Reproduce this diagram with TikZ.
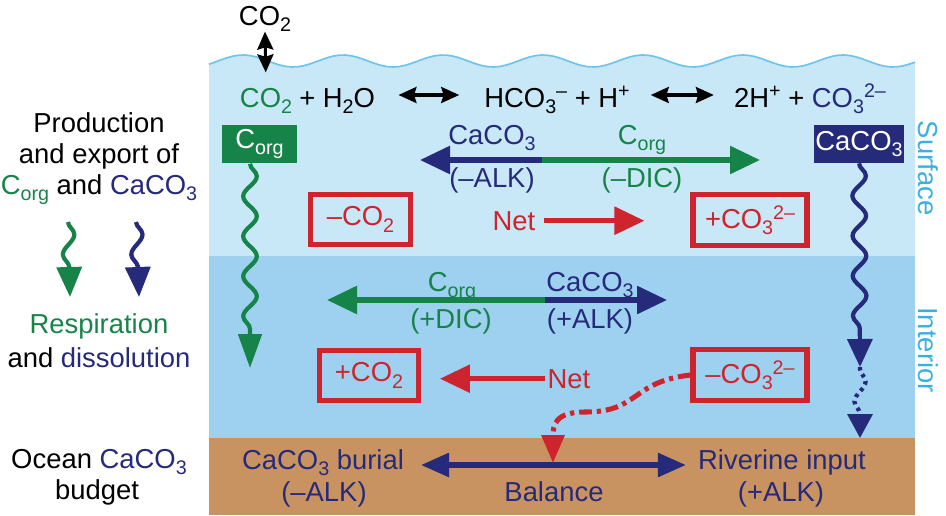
\documentclass[tikz,border=0pt]{standalone}
\usepackage{fontspec}
\setmainfont{Liberation Sans}
\usetikzlibrary{arrows.meta,decorations.pathmorphing}
\definecolor{orggreen}{RGB}{22,132,72}
\definecolor{carbnavy}{RGB}{38,42,122}
\definecolor{netred}{RGB}{206,36,46}
\definecolor{surfblue}{RGB}{200,232,248}
\definecolor{deepblue}{RGB}{158,208,240}
\definecolor{seabed}{RGB}{200,147,97}
\definecolor{waveblue}{RGB}{110,196,236}
\definecolor{layerblue}{RGB}{58,176,226}
\newcommand{\chsub}[1]{\raisebox{-4.5pt}{\fontsize{14}{14}\selectfont #1}}
\newcommand{\chsup}[1]{\raisebox{6.5pt}{\fontsize{14}{14}\selectfont #1}}
\tikzset{
  lbl/.style={font=\fontsize{19.5}{23}\selectfont, inner sep=0pt, anchor=base},
  netbox/.style={font=\fontsize{19.5}{23}\selectfont, draw=netred, text=netred, line width=3.6pt, minimum height=1.27cm, inner sep=0pt},
  tagbox/.style={font=\fontsize{19.5}{23}\selectfont, text=white, minimum height=0.95cm, inner xsep=1pt},
  flux/.style={line width=3.6pt, -{Triangle[length=0.75cm,width=0.68cm]}},
  balance/.style={line width=3.6pt, {Triangle[length=0.7cm,width=0.58cm]}-{Triangle[length=0.7cm,width=0.58cm]}},
  eqarrow/.style={line width=2.2pt, {Stealth[length=0.45cm,width=0.4cm,inset=0.06cm]}-{Stealth[length=0.45cm,width=0.4cm,inset=0.06cm]}},
  sinking/.style={line width=3pt, decorate, decoration={snake, amplitude=0.17cm, segment length=1cm, post length=0.85cm}},
}
\begin{document}
\begin{tikzpicture}[x=0.025cm, y=-0.025cm]
\useasboundingbox (0,0) rectangle (946,515);
\fill[surfblue] plot[domain=209:915, samples=120] (\x,{61-6*cos(3.6*(\x-243))}) -- (915,256) -- (209,256) -- cycle;
\draw[waveblue, line width=1.2pt] plot[domain=209:915, samples=120] (\x,{61-6*cos(3.6*(\x-243))});
\fill[deepblue] (209,256) rectangle (915,438);
\fill[seabed] (209,438) rectangle (915,515);
\node[lbl, text=layerblue, rotate=-90, anchor=center] (surface) at (928,168) {Surface};
\node[lbl, text=layerblue, rotate=-90, anchor=center] (interior) at (928,350) {Interior};

\node[lbl] (atmco2) at (265,25) {CO\chsub{2}};
\node[lbl, text=orggreen] (eqco2) at (266,107) {CO\chsub{2}};
\node[lbl, anchor=base west] (eqwat) at (299,107) {+ H\chsub{2}O};
\node[lbl] (eqbic) at (557,107) {HCO\chsub{3}\chsup{–} + H\chsup{+}};
\node[lbl] (eqcar) at (810,107) {2H\chsup{+} + \textcolor{carbnavy}{CO\chsub{3}\chsup{2–}}};
\draw[eqarrow, shorten >=0.38cm] (atmco2.south) -- (eqco2.north);
\draw[eqarrow] ([xshift=0.58cm,yshift=0.3cm]eqwat.base east) -- ([xshift=-0.62cm,yshift=0.3cm]eqbic.base west);
\draw[eqarrow] ([xshift=0.52cm,yshift=0.3cm]eqbic.base east) -- ([xshift=-0.5cm,yshift=0.3cm]eqcar.base west);

\node[tagbox, fill=orggreen, minimum width=1.875cm] (corgtag) at (259.5,144) {C\chsub{org}};
\node[tagbox, fill=carbnavy, minimum width=2.15cm] (caco3tag) at (859,144) {CaCO\chsub{3}};
\coordinate (corgend) at (250,368);
\coordinate (carbend) at (860,367);
\coordinate (carbfloor) at (860,438);
\draw[sinking, orggreen, -{Triangle[length=0.85cm,width=0.58cm]}] (corgtag.south -| corgend) -- (corgend);
\draw[sinking, carbnavy, decoration={post length=0.75cm}, -{Triangle[length=0.7cm,width=0.62cm]}] (caco3tag.south) -- (carbend);
\draw[carbnavy, line width=3pt, dash pattern=on 2.5pt off 3pt, decorate, decoration={snake, amplitude=0.14cm, segment length=1cm, pre length=0.05cm, post length=0.58cm}, -{Triangle[length=0.6cm,width=0.62cm]}] (carbend) -- (carbfloor);

\coordinate (sfsplit) at (542,160);
\coordinate (sfleft) at (420,160);
\coordinate (sfright) at (760,160);
\draw[flux, carbnavy] (sfsplit) -- (sfleft);
\draw[flux, orggreen] (sfsplit) -- (sfright);
\node[lbl, text=carbnavy] (sfcal) at (492,144) {CaCO\chsub{3}};
\node[lbl, text=carbnavy] (sfalk) at (492,187) {(–ALK)};
\node[lbl, text=orggreen] (sforg) at (642,144) {C\chsub{org}};
\node[lbl, text=orggreen] (sfdic) at (642,187) {(–DIC)};
\node[netbox, minimum width=2.5cm] (minusco2) at (360.5,219.5) {–CO\chsub{2}};
\node[netbox, minimum width=2.85cm] (plusco3) at (750,220) {+CO\chsub{3}\chsup{2–}};
\node[lbl, text=netred] (sfnet) at (514,230) {Net};
\draw[flux, netred, shorten <=0.2cm, shorten >=1.15cm] (sfnet.east) -- (sfnet.east -| plusco3.west);

\coordinate (insplit) at (545,300);
\coordinate (inleft) at (327,300);
\coordinate (inright) at (667,300);
\draw[flux, orggreen] (insplit) -- (inleft);
\draw[flux, carbnavy] (insplit) -- (inright);
\node[lbl, text=orggreen] (inorg) at (452,291) {C\chsub{org}};
\node[lbl, text=carbnavy] (incal) at (590,291) {CaCO\chsub{3}};
\node[lbl, text=orggreen] (indic) at (451,328) {(+DIC)};
\node[lbl, text=carbnavy] (inalk) at (590,328) {(+ALK)};
\node[netbox, minimum width=2.48cm] (plusco2) at (369,375.5) {+CO\chsub{2}};
\node[netbox, minimum width=2.85cm] (minusco3) at (750,375) {–CO\chsub{3}\chsup{2–}};
\node[lbl, text=netred] (innet) at (569,388) {Net};
\draw[flux, netred, shorten <=0.05cm, shorten >=0.47cm] (innet.west) -- (innet.west -| plusco2.east);

\node[lbl, text=carbnavy] (burial) at (323,469) {CaCO\chsub{3} burial};
\node[lbl, text=carbnavy] (buralk) at (324,501) {(–ALK)};
\node[lbl, text=carbnavy] (balance) at (554,501) {Balance};
\node[lbl, text=carbnavy] (river) at (782,469) {Riverine input};
\node[lbl, text=carbnavy] (rivalk) at (781,501) {(+ALK)};
\draw[balance, carbnavy, shorten <=0.42cm, shorten >=0.3cm] ([yshift=0.1cm]burial.base east) -- ([yshift=0.1cm]river.base west);
\coordinate (burialhit) at (553,463);
\draw[netred, line width=3.6pt, dash pattern=on 9pt off 3.5pt on 3pt off 3.5pt, -{Triangle[length=0.7cm,width=0.56cm]}] (minusco3.west) .. controls (630,382) and (640,412) .. (585,412) .. controls (555,412) and (553,425) .. (burialhit);

\node[lbl] (prod) at (99,132) {Production};
\node[lbl] (export) at (99,163) {and export of};
\node[lbl] (exportwhat) at (99,194) {\textcolor{orggreen}{C\chsub{org}} and \textcolor{carbnavy}{CaCO\chsub{3}}};
\coordinate (orgtop) at (68,222);
\coordinate (orgtip) at (70,297);
\coordinate (caltop) at (136,222);
\coordinate (caltip) at (139,297);
\draw[sinking, orggreen, decoration={amplitude=0.15cm, post length=0.75cm}, -{Triangle[length=0.75cm,width=0.62cm]}] (orgtop) -- (orgtip);
\draw[sinking, carbnavy, decoration={amplitude=0.15cm, post length=0.75cm}, -{Triangle[length=0.75cm,width=0.62cm]}] (caltop) -- (caltip);
\node[lbl, text=orggreen] (resp) at (99,333) {Respiration};
\node[lbl] (diss) at (99,367) {and \textcolor{carbnavy}{dissolution}};
\node[lbl] (ocean) at (99,468) {Ocean \textcolor{carbnavy}{CaCO\chsub{3}}};
\node[lbl] (budget) at (97,499) {budget};
\end{tikzpicture}
\end{document}
